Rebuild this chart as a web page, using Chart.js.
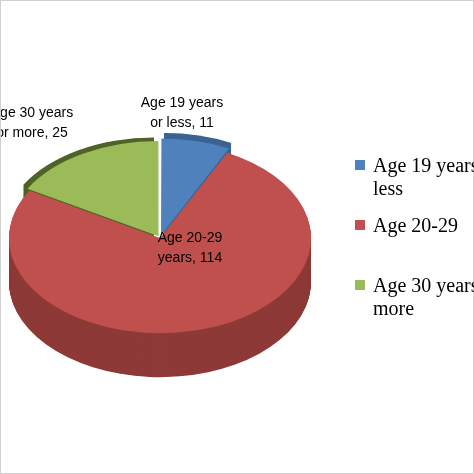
<!DOCTYPE html>
<html><head><meta charset="utf-8">
<script src="https://cdn.jsdelivr.net/npm/chart.js@4"></script>
<style>
html,body{margin:0;padding:0;background:#fff;overflow:hidden}
#wrap{position:relative;width:474px;height:474px;overflow:hidden}
#leg{position:absolute;left:355px;top:154px;font-family:"Liberation Serif","Times New Roman",serif;font-size:20px;color:#000;white-space:nowrap;line-height:23px}
.it{position:absolute;left:0}
.sw{position:absolute;left:0;top:6px;width:10px;height:10px}
.tx{position:absolute;left:18px;top:0}
</style></head><body>
<div id="wrap"><canvas id="c" width="474" height="474"></canvas>
<div id="leg"></div></div>
<script>
const categories=["Age 19 years or less","Age 20-29 years","Age 30 years or more"];
const values=[11,114,25];
const labelLines=[["Age 19 years","or less, 11"],["Age 20-29","years, 114"],["Age 30 years","or more, 25"]];
const legendLines=[["Age 19 years or","less"],["Age 20-29"],["Age 30 years or","more"]];
const topColors=["#4F81BD","#C0504D","#9BBB59"];
const sideColors=["#3A6293","#8E3A38","#4F6228"];
const offsets=[18,0,12];
const SY=0.63, DEPTH=44;
const legTops=[0,60,120];
const leg=document.getElementById('leg');
legendLines.forEach((l,i)=>{leg.innerHTML+=`<div class="it" style="top:${legTops[i]}px"><div class="sw" style="background:${topColors[i]}"></div><div class="tx">${l.join('<br>')}</div></div>`;});
let cx=0,cy=0;
function tf(ctx,chart){const a=chart.chartArea;cx=(a.left+a.right)/2;cy=(a.top+a.bottom)/2;ctx.translate(cx,cy);ctx.scale(1,SY);ctx.translate(-cx,-cy);}
const p3d={id:'p3d',
beforeDatasetsDraw(chart){const ctx=chart.ctx;ctx.save();tf(ctx,chart);
 const els=chart.getDatasetMeta(0).data;
 for(let d=DEPTH/SY;d>=1;d-=1){els.forEach((el,i)=>{const p=el.getProps(['x','y','startAngle','endAngle','outerRadius'],true);const off=offsets[i];const m=(p.startAngle+p.endAngle)/2;const x=p.x+Math.cos(m)*off,y=p.y+Math.sin(m)*off+d;
 ctx.fillStyle=sideColors[i];ctx.beginPath();ctx.moveTo(x,y);ctx.arc(x,y,p.outerRadius,p.startAngle,p.endAngle);ctx.closePath();ctx.fill();});}
},
afterDatasetsDraw(chart){const ctx=chart.ctx;ctx.restore();
 ctx.save();ctx.font='14px "Liberation Sans", Arial, sans-serif';ctx.fillStyle='#000';ctx.textAlign='center';ctx.textBaseline='middle';
 const pos=[[182,103],[190,238],[32,113]];
 labelLines.forEach((l,i)=>{l.forEach((t,j)=>ctx.fillText(t,pos[i][0],pos[i][1]+j*20));});
 ctx.strokeStyle='#d0d0d0';ctx.lineWidth=1;ctx.strokeRect(0.5,0.5,473,473);ctx.restore();}
};
new Chart(document.getElementById('c'),{type:'pie',
data:{labels:categories,datasets:[{data:values,backgroundColor:topColors,borderWidth:0,offset:offsets}]},
options:{responsive:false,animation:false,events:[],layout:{padding:{left:0,right:154,top:78,bottom:76}},
plugins:{legend:{display:false},tooltip:{enabled:false}}},
plugins:[p3d]});
</script></body></html>
